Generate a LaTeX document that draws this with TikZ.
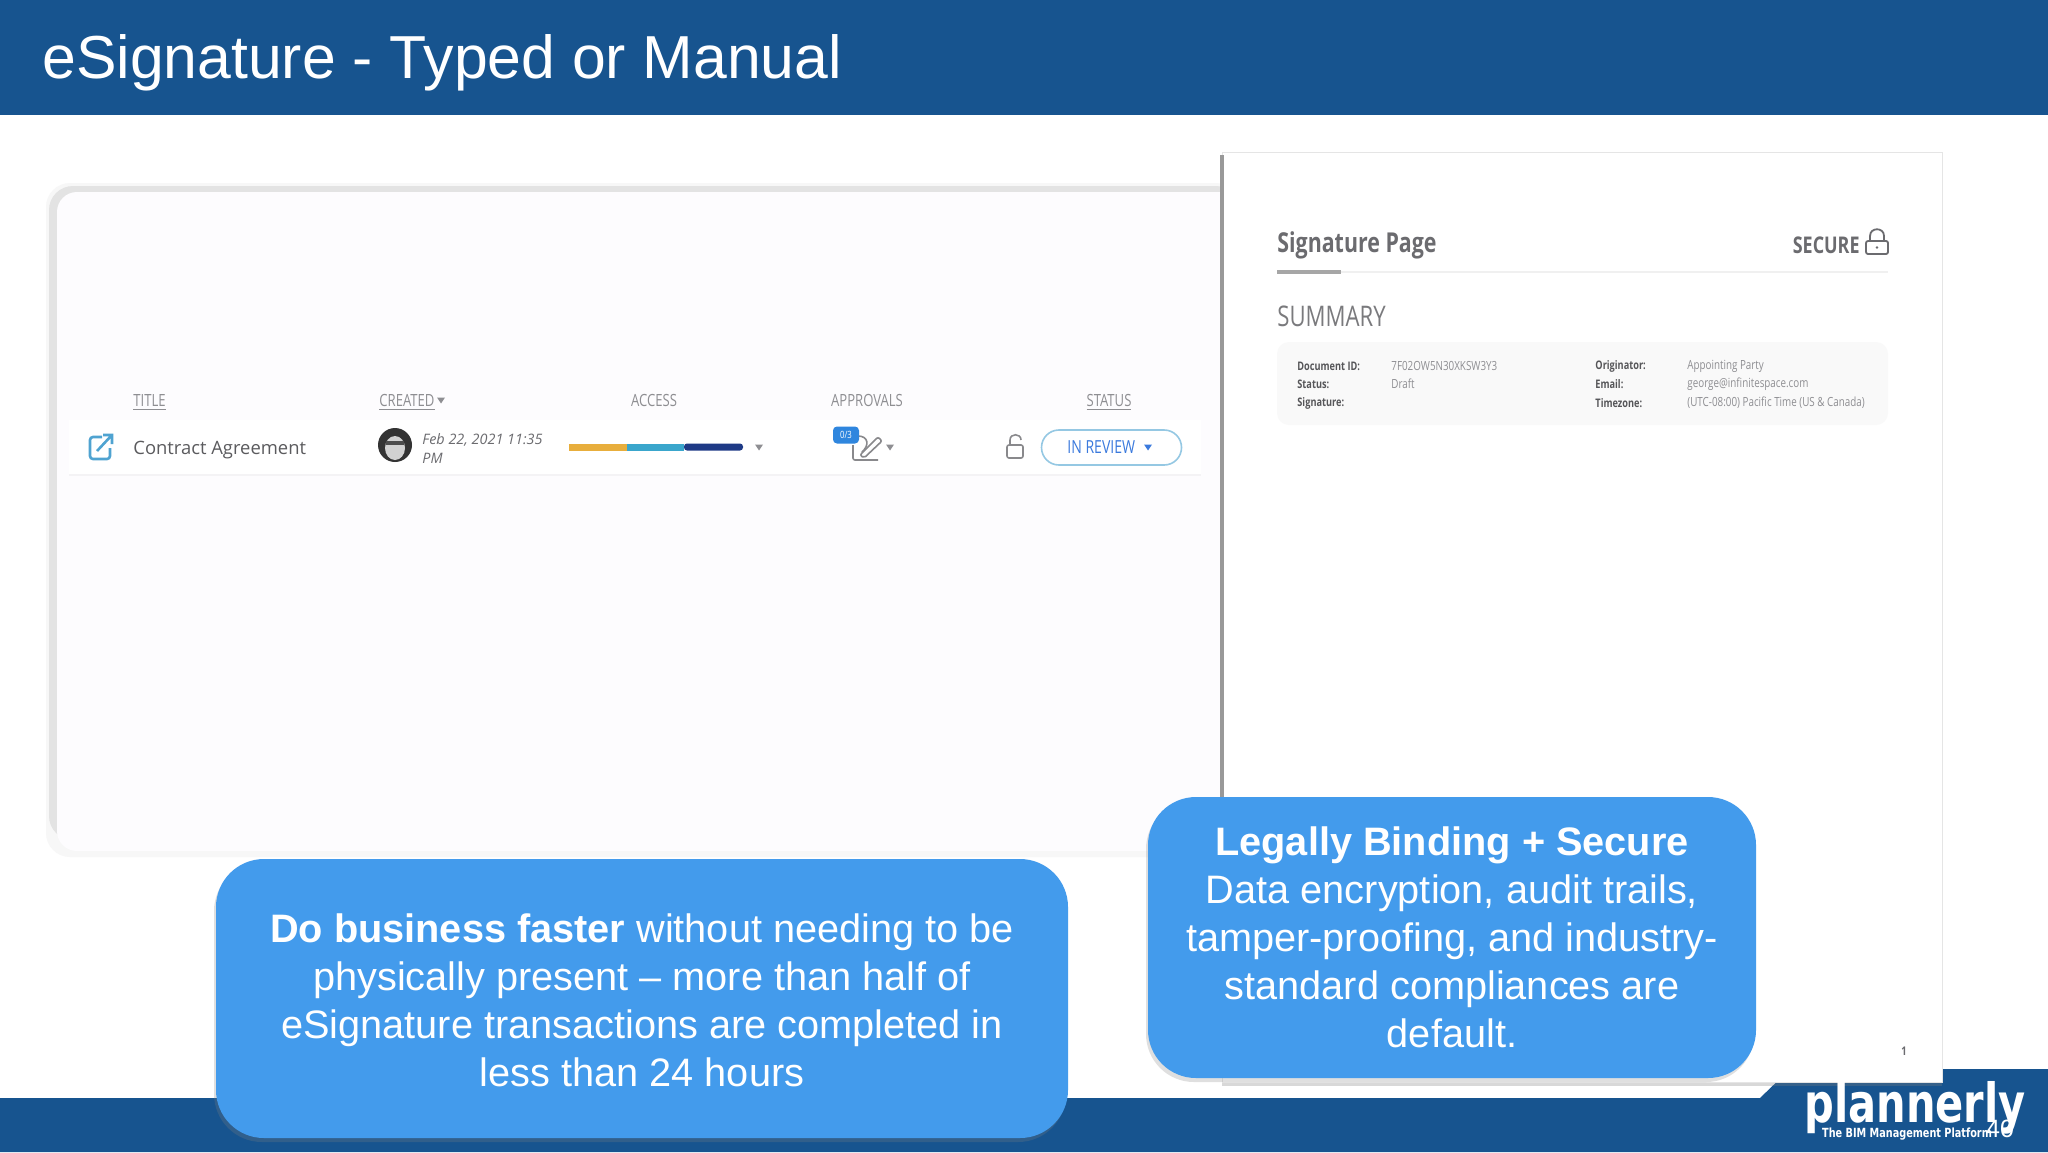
\documentclass[tikz,border=0pt]{standalone}
\usepackage{fontspec}
\setmainfont{Liberation Sans}
\newfontfamily\uifont{Open Sans}
\newfontfamily\condfont[FakeStretch=0.78]{Open Sans}
\newfontfamily\logofont[FakeStretch=0.77]{DejaVu Sans}
\usetikzlibrary{positioning,shadows}
\definecolor{headblue}{HTML}{17548F}
\definecolor{boxblue}{HTML}{439BEC}
\definecolor{panelgrey}{HTML}{FDFCFE}
\definecolor{uitext}{HTML}{6B6B6F}
\definecolor{headtext}{HTML}{8E8E92}
\definecolor{linkblue}{HTML}{4FA3D1}
\definecolor{barorange}{HTML}{E8AE3C}
\definecolor{barteal}{HTML}{3AA6CC}
\definecolor{barnavy}{HTML}{1E3A86}
\definecolor{badgeblue}{HTML}{2F86DE}
\tikzset{
  callout/.style={fill=boxblue, text=white, rounded corners=24pt, align=center, font=\fontsize{19.85}{24}\selectfont, inner sep=0pt, drop shadow={shadow xshift=-1pt, shadow yshift=-2pt, opacity=.25}},
  colhead/.style={anchor=base, text=headtext, inner sep=0pt, font=\condfont\fontsize{8.4}{10}\selectfont},
  sumkey/.style={anchor=west, inner sep=0pt, text=uitext!80!black, font=\condfont\bfseries\fontsize{5.9}{6}\selectfont},
  sumval/.style={anchor=west, inner sep=0pt, text=headtext, font=\condfont\fontsize{6.3}{7}\selectfont}
}
\newcommand{\dropat}[2]{\fill[#2] (#1) +(-4,-2.5) -- +(4,-2.5) -- +(0,3.5) -- cycle;}
\begin{document}
\begin{tikzpicture}[x=0.5pt,y=-0.5pt]
\useasboundingbox (0,0) rectangle (2048,1152);
\fill[white] (0,0) rectangle (2048,1152);
\fill[headblue] (0,0) rectangle (2048,115);
\fill[headblue] (0,1098) -- (1760,1098) -- (1790,1069) -- (2048,1069) -- (2048,1152) -- (0,1152) -- cycle;
\node[anchor=west, text=white, inner sep=0pt, font=\fontsize{30.35}{36}\selectfont] (title) at (42,63) {eSignature - Typed or Manual};

\fill[black!3, rounded corners=12pt] (46,183) rectangle (1240,857);
\fill[black!11, rounded corners=12pt] (49,186) rectangle (1240,840);
\fill[panelgrey, rounded corners=10pt] (57,192) rectangle (1240,851);
\fill[white, drop shadow={shadow xshift=0pt, shadow yshift=-1pt, opacity=.07}] (69,420) rectangle (1201,474);

\node[colhead, anchor=base west] (titlehead) at (133,406.5) {\underline{TITLE}};
\node[colhead, anchor=base west] (createdhead) at (379,406.5) {\underline{CREATED}};
\node[colhead] (accesshead) at (654,406.5) {ACCESS};
\node[colhead] (approvalshead) at (867,406.5) {APPROVALS};
\node[colhead] (statushead) at (1109,406.5) {\underline{STATUS}};
\dropat{441,400}{headtext}

\draw[linkblue, line width=1.3pt, rounded corners=1.5pt] (102,437) -- (90,437) -- (90,459) -- (110,459) -- (110,448);
\draw[linkblue, line width=1.3pt] (97,451) -- (111,436) (103,435) -- (112,435) -- (112,444);
\node[anchor=west, inner sep=0pt, text=uitext!85!black, font=\uifont\fontsize{9.2}{12}\selectfont] (contract) at (133,450) {Contract Agreement};

\fill[black!80] (395,445) ellipse (17 and 17);
\fill[black!18] (395,448) ellipse (10 and 12);
\fill[black!70] (386,441) rectangle (404,445);
\node[anchor=west, inner sep=0pt, text=uitext, align=left, font=\uifont\itshape\fontsize{7.2}{9.5}\selectfont] (created) at (422,449) {Feb 22, 2021 11:35\\PM};

\fill[barorange] (569,443.5) rectangle (627,450.5);
\fill[barteal] (627,443.5) rectangle (684,450.5);
\fill[barnavy, rounded corners=1.5pt] (684,443.5) rectangle (743,450.5);
\dropat{759,447}{headtext}

\draw[uitext!80, line width=.8pt, rounded corners=1pt] (853,445) -- (853,460) -- (878,460);
\draw[uitext!80, line width=.8pt, rounded corners=1pt] (860,455) -- (878,437) -- (882,441) -- (864,458) -- cycle;
\draw[uitext!80, line width=.8pt] (858,436) .. controls (868,436) and (870,445) .. (862,452);
\node[fill=badgeblue, rounded corners=2pt, text=white, inner sep=0pt, minimum width=13pt, minimum height=8.5pt, font=\condfont\fontsize{5}{6}\selectfont] (badge) at (846,435) {0/3};
\dropat{890,447}{headtext}

\draw[uitext!80, line width=.8pt, rounded corners=1pt] (1007,445) rectangle (1023,458);
\draw[uitext!80, line width=.8pt] (1010,445) -- (1010,440) .. controls (1010,433) and (1021,433) .. (1021,440);
\node[draw=linkblue!60, line width=.8pt, fill=white, rounded corners=8.7pt, minimum width=70pt, minimum height=17.5pt, inner sep=0pt] (inreview) at (1111.5,447.5) {};
\node[inner sep=0pt, anchor=west, text=linkblue!75!blue, font=\condfont\fontsize{9}{10}\selectfont] (inreviewtext) at (1067,447) {IN REVIEW};
\dropat{1148,447}{linkblue!75!blue}

\node[anchor=north west, draw=black!10, fill=white, minimum width=360pt, minimum height=465pt, inner sep=0pt, drop shadow={shadow xshift=0pt, shadow yshift=-2pt, opacity=.3}] (page) at (1222,152) {};
\fill[black!40] (1220,155) rectangle (1224,800);

\node[anchor=west, inner sep=0pt, text=uitext, font=\condfont\bfseries\fontsize{13.7}{16}\selectfont] (pagetitle) at (1277,245.5) {Signature Page};
\node[anchor=east, inner sep=0pt, text=uitext, font=\condfont\bfseries\fontsize{11.5}{13}\selectfont] (secure) at (1860,245.5) {SECURE};
\draw[uitext, line width=.9pt, rounded corners=1pt] (1866,241) rectangle (1888,254);
\draw[uitext, line width=.9pt] (1870,241) -- (1870,236) .. controls (1870,227) and (1884,227) .. (1884,236) -- (1884,241);
\fill[uitext] (1877,247.5) circle (1.4);
\fill[black!6] (1277,271) rectangle (1888,273);
\fill[black!35] (1277,270) rectangle (1341,274);
\node[anchor=west, inner sep=0pt, text=uitext!90, font=\condfont\fontsize{14.2}{16}\selectfont] (summary) at (1277,316) {SUMMARY};
\fill[black!2.5, rounded corners=6pt] (1277,342) rectangle (1888,425);

\node[sumkey] (docidkey) at (1297,366) {Document ID:};
\node[sumval] (docidval) at (1391,366) {7F02OW5N30XKSW3Y3};
\node[sumkey] (statuskey) at (1297,384) {Status:};
\node[sumval] (statusval) at (1391,384) {Draft};
\node[sumkey] (signkey) at (1297,403) {Signature:};
\node[sumkey] (originkey) at (1595,366) {Originator:};
\node[sumval] (originval) at (1687,366) {Appointing Party};
\node[sumkey] (emailkey) at (1595,384) {Email:};
\node[sumval] (emailval) at (1687,384) {george@infinitespace.com};
\node[sumkey] (zonekey) at (1595,403) {Timezone:};
\node[sumval] (zoneval) at (1687,403) {(UTC-08:00) Pacific Time (US \& Canada)};
\node[inner sep=0pt, text=uitext, font=\condfont\bfseries\fontsize{6}{7}\selectfont] (pagenum) at (1904,1051) {1};

\node[callout, minimum width=426pt, minimum height=139.5pt] (faster) at (642,998.5) {\rule{0pt}{15.7pt}\textbf{Do business faster} without needing to be\\physically present – more than half of\\eSignature transactions are completed in\\less than 24 hours};
\node[callout, minimum width=304pt, minimum height=140.5pt] (securebox) at (1452,937.5) {\rule{0pt}{14.5pt}\textbf{Legally Binding + Secure}\\Data encryption, audit trails,\\tamper-proofing, and industry-\\standard compliances are\\default.};

\node[anchor=base, inner sep=0pt, text=white, font=\logofont\bfseries\fontsize{27}{30}\selectfont] (logo) at (1915,1122) {plannerly};
\node[inner sep=0pt, text=white, font=\logofont\bfseries\fontsize{6.3}{7}\selectfont] (tagline) at (1907,1134) {The BIM Management Platform};
\node[inner sep=0pt, text=white, font=\fontsize{12.5}{14}\selectfont] (slidenum) at (2000,1129) {40};
\end{tikzpicture}
\end{document}
